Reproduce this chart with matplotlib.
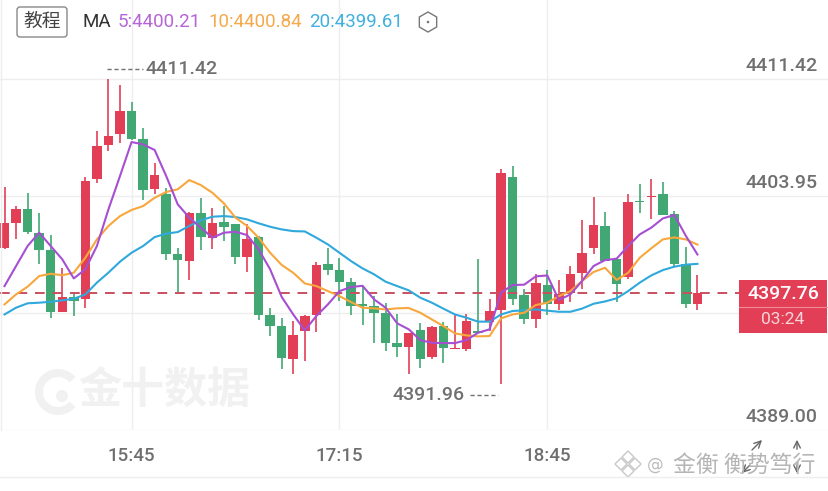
import matplotlib
matplotlib.use('Agg')
import matplotlib.pyplot as plt
from matplotlib.patches import Circle, FancyBboxPatch, Rectangle, RegularPolygon, Wedge

# Candle values
highs = [4404.54, 4403.30, 4404.11, 4402.88, 4401.43, 4399.32, 4397.83, 4405.18, 4408.11, 4411.42,
         4411.03, 4409.97, 4408.26, 4406.03, 4404.47, 4400.62, 4402.94, 4403.79, 4403.15, 4403.30,
         4402.17, 4402.17, 4401.39, 4396.81, 4396.13, 4395.96, 4396.32, 4399.75, 4400.64, 4399.98,
         4398.72, 4398.15, 4397.55, 4397.11, 4396.40, 4395.19, 4395.85, 4395.62, 4395.92, 4396.34,
         4396.40, 4399.94, 4397.34, 4405.64, 4405.86, 4397.98, 4398.94, 4399.24, 4398.58, 4399.47,
         4402.41, 4403.90, 4402.92, 4400.00, 4404.09, 4404.73, 4405.00, 4404.83, 4402.98, 4400.70,
         4398.87]
lows = [4400.54, 4401.17, 4401.49, 4399.58, 4396.17, 4396.53, 4396.28, 4396.77, 4404.79, 4406.84,
        4407.33, 4407.50, 4403.66, 4404.07, 4399.85, 4397.73, 4398.60, 4400.49, 4400.54, 4401.05,
        4399.58, 4399.11, 4396.02, 4395.00, 4392.87, 4392.59, 4393.38, 4395.26, 4398.87, 4397.23,
        4396.34, 4395.70, 4394.53, 4394.06, 4393.66, 4392.59, 4392.98, 4393.51, 4393.28, 4394.19,
        4394.04, 4395.17, 4395.32, 4391.96, 4396.98, 4395.74, 4395.49, 4396.34, 4396.66, 4397.17,
        4397.98, 4400.21, 4399.77, 4397.17, 4398.66, 4402.85, 4402.45, 4402.73, 4399.43, 4396.81,
        4396.66]
opens = [4400.62, 4402.20, 4403.09, 4401.60, 4400.49, 4396.56, 4397.51, 4397.34, 4405.01, 4407.18,
         4407.88, 4409.39, 4407.56, 4404.37, 4404.05, 4400.22, 4399.81, 4402.88, 4401.24, 4402.26,
         4402.17, 4400.02, 4401.32, 4396.34, 4395.64, 4393.55, 4395.30, 4396.32, 4399.58, 4399.21,
         4398.47, 4397.02, 4396.92, 4396.47, 4394.57, 4394.28, 4395.36, 4393.68, 4395.64, 4394.19,
         4394.19, 4395.32, 4395.89, 4396.66, 4405.13, 4397.64, 4396.11, 4398.24, 4397.02, 4397.77,
         4399.04, 4400.62, 4402.00, 4399.90, 4398.79, 4403.64, 4403.88, 4404.09, 4402.77, 4399.62,
         4397.02]
closes = [4402.20, 4403.13, 4401.66, 4400.49, 4396.56, 4397.51, 4397.24, 4404.92, 4407.13, 4407.79,
          4409.39, 4407.56, 4404.32, 4405.30, 4400.22, 4399.83, 4402.83, 4401.32, 4402.24, 4401.94,
          4400.05, 4401.17, 4396.34, 4395.64, 4393.62, 4395.08, 4396.26, 4399.55, 4399.19, 4398.47,
          4396.92, 4396.92, 4396.47, 4394.53, 4394.32, 4395.17, 4393.55, 4395.57, 4394.21, 4394.25,
          4395.98, 4395.17, 4396.62, 4405.39, 4397.34, 4396.06, 4398.38, 4397.06, 4397.66, 4398.98,
          4400.32, 4402.11, 4399.79, 4398.34, 4403.56, 4403.56, 4403.94, 4402.75, 4399.62, 4397.02,
          4397.76]

ma5 = [4398.19, 4399.47, 4400.75, 4401.60, 4400.75, 4399.90, 4398.68, 4399.26, 4400.75, 4403.09,
       4405.22, 4407.39, 4407.24, 4406.88, 4405.22, 4403.41, 4402.56, 4401.92, 4401.28, 4401.60,
       4401.66, 4401.45, 4400.54, 4399.26, 4397.50, 4396.38, 4395.36, 4396.28, 4397.02, 4397.87,
       4398.13, 4398.21, 4397.34, 4396.81, 4395.81, 4395.43, 4394.74, 4394.57, 4394.55, 4394.55,
       4394.74, 4395.21, 4395.43, 4397.77, 4398.26, 4398.28, 4398.81, 4398.87, 4397.30, 4397.66,
       4398.51, 4399.47, 4399.85, 4399.94, 4400.75, 4401.49, 4401.92, 4402.51, 4402.73, 4401.39,
       4400.21]
ma10 = [4397.02, 4397.66, 4398.15, 4398.83, 4398.98, 4398.88, 4399.05, 4400.00, 4401.17, 4402.03,
        4402.66, 4403.05, 4403.30, 4403.83, 4404.20, 4404.37, 4404.96, 4404.64, 4404.15, 4403.47,
        4402.56, 4402.03, 4401.28, 4400.32, 4399.54, 4399.04, 4398.36, 4398.19, 4397.87, 4397.55,
        4397.17, 4396.81, 4396.77, 4396.70, 4396.77, 4396.79, 4396.49, 4396.06, 4395.64, 4395.17,
        4395.04, 4394.98, 4395.00, 4396.13, 4396.38, 4396.49, 4396.98, 4397.13, 4397.55, 4397.87,
        4398.51, 4399.09, 4399.36, 4398.58, 4399.04, 4400.00, 4400.60, 4401.17, 4401.30, 4401.17,
        4400.84]
ma20 = [4396.38, 4396.81, 4397.09, 4397.13, 4397.19, 4397.28, 4397.38, 4397.66, 4398.41, 4399.05,
        4399.75, 4400.32, 4400.75, 4401.32, 4401.54, 4401.64, 4402.03, 4402.39, 4402.62, 4402.66,
        4402.60, 4402.45, 4402.20, 4401.98, 4401.81, 4401.70, 4401.68, 4401.28, 4400.85, 4400.32,
        4399.79, 4399.32, 4398.94, 4398.47, 4398.19, 4397.92, 4397.45, 4397.13, 4396.75, 4396.38,
        4396.17, 4395.92, 4395.92, 4396.38, 4396.60, 4396.64, 4396.70, 4396.62, 4396.55, 4396.55,
        4396.75, 4397.06, 4397.21, 4397.41, 4397.87, 4398.41, 4398.87, 4399.21, 4399.43, 4399.56,
        4399.61]

time_ticks = [11, 29, 47]
time_labels = ['15:45', '17:15', '18:45']
price_grid = [4389.00, 4396.47, 4403.95, 4411.42]
price_labels = ['4389.00', '4403.95', '4411.42']
last_price = 4397.76

RED = '#e23f56'
GREEN = '#42a873'
GRID = '#eeeeee'
GRAY = '#707070'
NUM_FONT = 'Roboto'
CJK_FONT = 'Noto Sans CJK SC'

W, H = 829, 491
fig = plt.figure(figsize=(W / 100, H / 100), dpi=100)

# Main price panel, bottom edge sits on 4389.00 at pixel row 430
ax = fig.add_axes([0, (H - 430) / H, 1, 430 / H])
ax.set_xlim(-0.39, 71.39)
ax.set_ylim(4389.00, 4416.46)
for s in ax.spines.values():
    s.set_visible(False)
ax.set_yticks(price_grid)
ax.set_yticklabels([])
ax.set_xticks(time_ticks)
ax.set_xticklabels(time_labels, fontsize=13.5, color=GRAY, family=NUM_FONT, weight='medium')
ax.tick_params(length=0, pad=12)
ax.grid(True, color=GRID, lw=1)
ax.set_axisbelow(True)

# Candles
for i in range(len(opens)):
    color = RED if closes[i] >= opens[i] else GREEN
    ax.vlines(i, lows[i], highs[i], color=color, lw=1.2, zorder=2)
    bottom = min(opens[i], closes[i])
    height = abs(closes[i] - opens[i])
    ax.bar(i, height, bottom=bottom, width=0.82, color=color, zorder=2)

# Last price line
ax.plot([-0.39, 63.6], [last_price, last_price], color='#c9505f', lw=1.4, dashes=(5, 4), zorder=3)

# Moving averages
xs = list(range(len(ma5)))
ax.plot(xs, ma20, color='#2fa8dc', lw=1.5, zorder=4)
ax.plot(xs, ma10, color='#f7a73c', lw=1.5, zorder=4)
ax.plot(xs, ma5, color='#a64fd2', lw=1.5, zorder=4)

# Price labels above their grid lines
for lab in price_labels:
    ax.annotate(lab, (1, float(lab)), xycoords=('axes fraction', 'data'),
                xytext=(-8, 3), textcoords='offset points', weight='medium',
                ha='right', va='bottom', fontsize=14, color=GRAY, family=NUM_FONT)

# Overlay in pixel coordinates for the app furniture
ui = fig.add_axes([0, 0, 1, 1], zorder=5)
ui.set_xlim(0, W)
ui.set_ylim(H, 0)
ui.axis('off')
ui.patch.set_alpha(0)

ui.plot([0, W], [477, 477], color=GRID, lw=1)
ui.plot([1, 1], [0, 430], color=GRID, lw=1)

# Header
ui.add_patch(FancyBboxPatch((17, 7), 50, 30, boxstyle='round,pad=0,rounding_size=3',
                            fc='white', ec='#888888', lw=1))
ui.text(42, 21.5, '教程', family=CJK_FONT, fontsize=13.5, color='#444444', ha='center', va='center')
ui.text(83, 22, 'MA', family=NUM_FONT, fontsize=13.5, color='#333333', va='center')
ui.text(118, 22, '5:4400.21', family=NUM_FONT, fontsize=13.5, color='#b565d8', va='center')
ui.text(208, 22, '10:4400.84', family=NUM_FONT, fontsize=13.5, color='#f5a94a', va='center')
ui.text(309, 22, '20:4399.61', family=NUM_FONT, fontsize=13.5, color='#3fb0e0', va='center')
ui.add_patch(RegularPolygon((428, 22), 6, radius=10, fc='none', ec='#777777', lw=1))
ui.add_patch(Circle((428, 22), 1.3, fc='#777777', ec='none'))

# High / low markers
ui.plot([107, 143], [69, 69], color=GRAY, lw=1, dashes=(3, 2))
ui.text(146, 69, '4411.42', family=NUM_FONT, fontsize=14, weight='medium', color=GRAY, va='center')
ui.text(393, 395, '4391.96', family=NUM_FONT, fontsize=14, weight='medium', color=GRAY, va='center')
ui.plot([470, 498], [395, 395], color=GRAY, lw=1, dashes=(3, 2))

# Price box
ui.add_patch(Rectangle((739, 280), 88, 53, fc=RED, ec='none'))
ui.plot([739, 827], [307, 307], color='#f08a98', lw=0.8)
ui.text(783, 294, '4397.76', family=NUM_FONT, fontsize=14, color='white', weight='medium',
        ha='center', va='center')
ui.text(783, 320, '03:24', family=NUM_FONT, fontsize=12.5, color='#f7d5da', ha='center', va='center')

# Watermark
ui.add_patch(Wedge((58, 392), 23, 40, 320, width=8, fc='#f1f1f1', ec='none'))
ui.add_patch(Circle((62, 396), 6, fc='#f1f1f1', ec='none'))
ui.text(164, 391, '金十数据', family=CJK_FONT, weight='bold', fontsize=31, color='#f1f1f1',
        ha='center', va='center')

# Corner arrows
arrow = dict(arrowstyle='->', color='#666666', lw=1, mutation_scale=12)
ui.annotate('', xy=(764, 438), xytext=(750, 452), arrowprops=arrow)
ui.annotate('', xy=(797, 437), xytext=(797, 452), arrowprops=arrow)
ui.annotate('', xy=(740, 475), xytext=(752, 463), arrowprops=arrow)
ui.annotate('', xy=(797, 476), xytext=(797, 462), arrowprops=arrow)

# Repost stamp
for dx, dy in [(0, -7), (-7, 0), (7, 0), (0, 7)]:
    ui.add_patch(RegularPolygon((628 + dx, 464 + dy), 4, radius=6, fc='white', ec='#c8c8c8', lw=1))
ui.text(655, 465, '@', family='DejaVu Sans', fontsize=12, color='#bbbbbb', ha='center', va='center')
ui.text(673, 465, '金衡 衡势笃行', family=CJK_FONT, fontsize=16.5, color='#b5b5b5', va='center')

fig.savefig('out.png', dpi=100, facecolor='white')
